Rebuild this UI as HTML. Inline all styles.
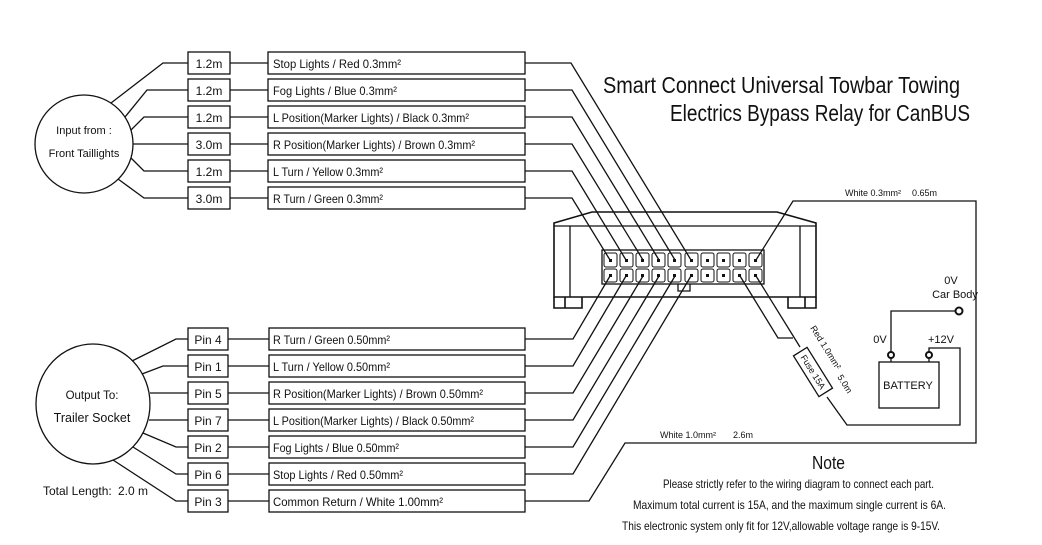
<!DOCTYPE html>
<html><head><meta charset="utf-8"><style>
html,body{margin:0;padding:0;background:#fff;}
svg{display:block;}
text{font-family:"Liberation Sans",sans-serif;fill:#111;}
</style></head><body>
<svg width="1042" height="545" viewBox="0 0 1042 545" xmlns="http://www.w3.org/2000/svg">
<g fill="none" stroke="#111" stroke-width="1.3">
<ellipse cx="84" cy="144" rx="49" ry="49"/>
<polyline points="111,103 163,63 188,63"/>
<polyline points="125,117 147,90 188,90"/>
<polyline points="131,130 144,117 188,117"/>
<polyline points="133,144 188,144"/>
<polyline points="131,158 144,171 188,171"/>
<polyline points="118,179 144,198 188,198"/>
<g>
<rect x="188" y="52" width="42" height="22"/><rect x="188" y="79" width="42" height="22"/><rect x="188" y="106" width="42" height="22"/><rect x="188" y="133" width="42" height="22"/><rect x="188" y="160" width="42" height="22"/><rect x="188" y="187" width="42" height="22"/>
<rect x="268" y="52" width="257" height="22"/><rect x="268" y="79" width="257" height="22"/><rect x="268" y="106" width="257" height="22"/><rect x="268" y="133" width="257" height="22"/><rect x="268" y="160" width="257" height="22"/><rect x="268" y="187" width="257" height="22"/>
</g>
<path d="M230 63H268M230 90H268M230 117H268M230 144H268M230 171H268M230 198H268"/>
<polyline points="525,63 571,63 691,260"/>
<polyline points="525,90 572,90 675,260"/>
<polyline points="525,117 572,117 659,260"/>
<polyline points="525,144 572,144 643,260"/>
<polyline points="525,171 572,171 626,260"/>
<polyline points="525,198 572,198 610,260"/>

<ellipse cx="93" cy="404" rx="57" ry="60"/>
<polyline points="132,361 176,339 188,339"/>
<polyline points="142,374 163,366 188,366"/>
<polyline points="150,393 188,393"/>
<polyline points="149,420 188,420"/>
<polyline points="143,433 176,447 188,447"/>
<polyline points="133,447 176,474 188,474"/>
<polyline points="113,460 176,501 188,501"/>
<g>
<rect x="188" y="328" width="40" height="22"/><rect x="188" y="355" width="40" height="22"/><rect x="188" y="382" width="40" height="22"/><rect x="188" y="409" width="40" height="22"/><rect x="188" y="436" width="40" height="22"/><rect x="188" y="463" width="40" height="22"/><rect x="188" y="490" width="40" height="22"/>
<rect x="269" y="328" width="256" height="22"/><rect x="269" y="355" width="256" height="22"/><rect x="269" y="382" width="256" height="22"/><rect x="269" y="409" width="256" height="22"/><rect x="269" y="436" width="256" height="22"/><rect x="269" y="463" width="256" height="22"/><rect x="269" y="490" width="256" height="22"/>
</g>
<path d="M228 339H269M228 366H269M228 393H269M228 420H269M228 447H269M228 474H269M228 501H269"/>
<polyline points="525,339 573,339 610,276"/>
<polyline points="525,366 573,366 626,276"/>
<polyline points="525,393 573,393 643,276"/>
<polyline points="525,420 573,420 659,276"/>
<polyline points="525,447 573,447 675,276"/>
<polyline points="525,474 573,474 691,276"/>
<polyline points="525,501 589,501 625,443 976,443 976,201 793,201 756,260"/>

<path d="M554 223 L592 212 L777 212 L816 223 L816 297 L554 297 Z" stroke-width="1.6"/>
<path d="M554 226H816M570 226V297M800 226V297"/>
<path d="M554 297V308H582V297M565 297V308M788 297V308H816V297M805 297V308" stroke-width="1.6"/>
<rect x="602" y="250" width="162" height="34"/>
<path d="M678 284V291H690V284"/>
<g stroke-width="1">
<rect x="604" y="253" width="13" height="14" rx="2"/><rect x="620" y="253" width="13" height="14" rx="2"/><rect x="636" y="253" width="13" height="14" rx="2"/><rect x="652" y="253" width="13" height="14" rx="2"/><rect x="668" y="253" width="13" height="14" rx="2"/><rect x="685" y="253" width="13" height="14" rx="2"/><rect x="701" y="253" width="13" height="14" rx="2"/><rect x="717" y="253" width="13" height="14" rx="2"/><rect x="733" y="253" width="13" height="14" rx="2"/><rect x="749" y="253" width="13" height="14" rx="2"/>
<rect x="604" y="269" width="13" height="13" rx="2"/><rect x="620" y="269" width="13" height="13" rx="2"/><rect x="636" y="269" width="13" height="13" rx="2"/><rect x="652" y="269" width="13" height="13" rx="2"/><rect x="668" y="269" width="13" height="13" rx="2"/><rect x="685" y="269" width="13" height="13" rx="2"/><rect x="701" y="269" width="13" height="13" rx="2"/><rect x="717" y="269" width="13" height="13" rx="2"/><rect x="733" y="269" width="13" height="13" rx="2"/><rect x="749" y="269" width="13" height="13" rx="2"/>
</g>
</g>
<g fill="#111">
<rect x="609" y="259" width="3" height="3"/><rect x="625" y="259" width="3" height="3"/><rect x="641" y="259" width="3" height="3"/><rect x="657" y="259" width="3" height="3"/><rect x="673" y="259" width="3" height="3"/><rect x="690" y="259" width="3" height="3"/><rect x="706" y="259" width="3" height="3"/><rect x="722" y="259" width="3" height="3"/><rect x="738" y="259" width="3" height="3"/><rect x="754" y="259" width="3" height="3"/>
<rect x="609" y="274" width="3" height="3"/><rect x="625" y="274" width="3" height="3"/><rect x="641" y="274" width="3" height="3"/><rect x="657" y="274" width="3" height="3"/><rect x="673" y="274" width="3" height="3"/><rect x="690" y="274" width="3" height="3"/><rect x="706" y="274" width="3" height="3"/><rect x="722" y="274" width="3" height="3"/><rect x="738" y="274" width="3" height="3"/><rect x="754" y="274" width="3" height="3"/>
</g>
<g fill="none" stroke="#111" stroke-width="1.3">
<polyline points="740,276 778,338 793,338"/>
<polyline points="756,276 800,347"/>
<polyline points="827,397 847,425 960,425 960,348 929,348 929,352"/>
<g transform="translate(813,372) rotate(-32)"><rect x="-8" y="-24" width="16" height="48" fill="#fff"/></g>
<rect x="879" y="362" width="60" height="46"/>
<polyline points="955,311 891,311 891,352"/>
<circle cx="959" cy="311" r="3.5" stroke-width="2"/>
<circle cx="891" cy="355" r="3" stroke-width="2"/>
<circle cx="929" cy="355" r="3" stroke-width="2"/>
<path d="M891 358V362M929 358V362"/>
</g>
<g font-size="12">
<text x="209" y="68" text-anchor="middle">1.2m</text>
<text x="209" y="95" text-anchor="middle">1.2m</text>
<text x="209" y="122" text-anchor="middle">1.2m</text>
<text x="209" y="149" text-anchor="middle">3.0m</text>
<text x="209" y="176" text-anchor="middle">1.2m</text>
<text x="209" y="203" text-anchor="middle">3.0m</text>
<text x="273" y="68" textLength="128" lengthAdjust="spacingAndGlyphs">Stop Lights / Red 0.3mm²</text>
<text x="273" y="95" textLength="124" lengthAdjust="spacingAndGlyphs">Fog Lights / Blue 0.3mm²</text>
<text x="273" y="122" textLength="196" lengthAdjust="spacingAndGlyphs">L Position(Marker Lights) / Black 0.3mm²</text>
<text x="273" y="149" textLength="202" lengthAdjust="spacingAndGlyphs">R Position(Marker Lights) / Brown 0.3mm²</text>
<text x="273" y="176" textLength="110" lengthAdjust="spacingAndGlyphs">L Turn / Yellow 0.3mm²</text>
<text x="273" y="203" textLength="110" lengthAdjust="spacingAndGlyphs">R Turn / Green 0.3mm²</text>
<text x="208" y="344" text-anchor="middle">Pin 4</text>
<text x="208" y="371" text-anchor="middle">Pin 1</text>
<text x="208" y="398" text-anchor="middle">Pin 5</text>
<text x="208" y="425" text-anchor="middle">Pin 7</text>
<text x="208" y="452" text-anchor="middle">Pin 2</text>
<text x="208" y="479" text-anchor="middle">Pin 6</text>
<text x="208" y="506" text-anchor="middle">Pin 3</text>
<text x="273" y="344" textLength="117" lengthAdjust="spacingAndGlyphs">R Turn / Green 0.50mm²</text>
<text x="273" y="371" textLength="117" lengthAdjust="spacingAndGlyphs">L Turn / Yellow 0.50mm²</text>
<text x="273" y="398" textLength="210" lengthAdjust="spacingAndGlyphs">R Position(Marker Lights) / Brown 0.50mm²</text>
<text x="273" y="425" textLength="201" lengthAdjust="spacingAndGlyphs">L Position(Marker Lights) / Black 0.50mm²</text>
<text x="273" y="452" textLength="126" lengthAdjust="spacingAndGlyphs">Fog Lights / Blue 0.50mm²</text>
<text x="273" y="479" textLength="130" lengthAdjust="spacingAndGlyphs">Stop Lights / Red 0.50mm²</text>
<text x="273" y="506" textLength="170" lengthAdjust="spacingAndGlyphs">Common Return / White  1.00mm²</text>
</g>
<g font-size="11">
<text x="84" y="134" text-anchor="middle">Input from :</text>
<text x="84" y="157" text-anchor="middle">Front Taillights</text>
<text x="92" y="399" text-anchor="middle" font-size="11.5">Output To:</text>
<text x="92" y="422" text-anchor="middle" font-size="12.5">Trailer Socket</text>
<text x="43" y="495" font-size="12">Total Length:</text>
<text x="118" y="495" font-size="12">2.0 m</text>
<text x="845" y="196" font-size="9">White  0.3mm²</text>
<text x="912" y="196" font-size="9">0.65m</text>
<text x="660" y="438" font-size="9">White  1.0mm²</text>
<text x="733" y="438" font-size="9">2.6m</text>
<text x="951" y="284" text-anchor="middle">0V</text>
<text x="955" y="298" text-anchor="middle">Car Body</text>
<text x="880" y="343" text-anchor="middle">0V</text>
<text x="941" y="343" text-anchor="middle">+12V</text>
<text x="908" y="389" text-anchor="middle">BATTERY</text>
<text font-size="9" transform="translate(810,328) rotate(58)">Red  1.0mm²</text>
<text font-size="9" transform="translate(837,377) rotate(58)">5.0m</text>
<text font-size="9" text-anchor="middle" transform="translate(813,372) rotate(58)" y="3">Fuse  15A</text>
</g>
<text x="603" y="93" font-size="23" textLength="357" lengthAdjust="spacingAndGlyphs">Smart Connect Universal Towbar Towing</text>
<text x="670" y="121" font-size="23" textLength="300" lengthAdjust="spacingAndGlyphs">Electrics Bypass Relay for CanBUS</text>
<text x="812" y="469" font-size="18" textLength="33" lengthAdjust="spacingAndGlyphs">Note</text>
<text x="663" y="488" font-size="12" textLength="271" lengthAdjust="spacingAndGlyphs">Please strictly refer to the wiring diagram to connect each part.</text>
<text x="633" y="509" font-size="12" textLength="313" lengthAdjust="spacingAndGlyphs">Maximum total current is 15A, and the maximum single current is 6A.</text>
<text x="622" y="530" font-size="12" textLength="318" lengthAdjust="spacingAndGlyphs">This electronic system only fit for 12V,allowable voltage range is 9-15V.</text>
</svg>
</body></html>
